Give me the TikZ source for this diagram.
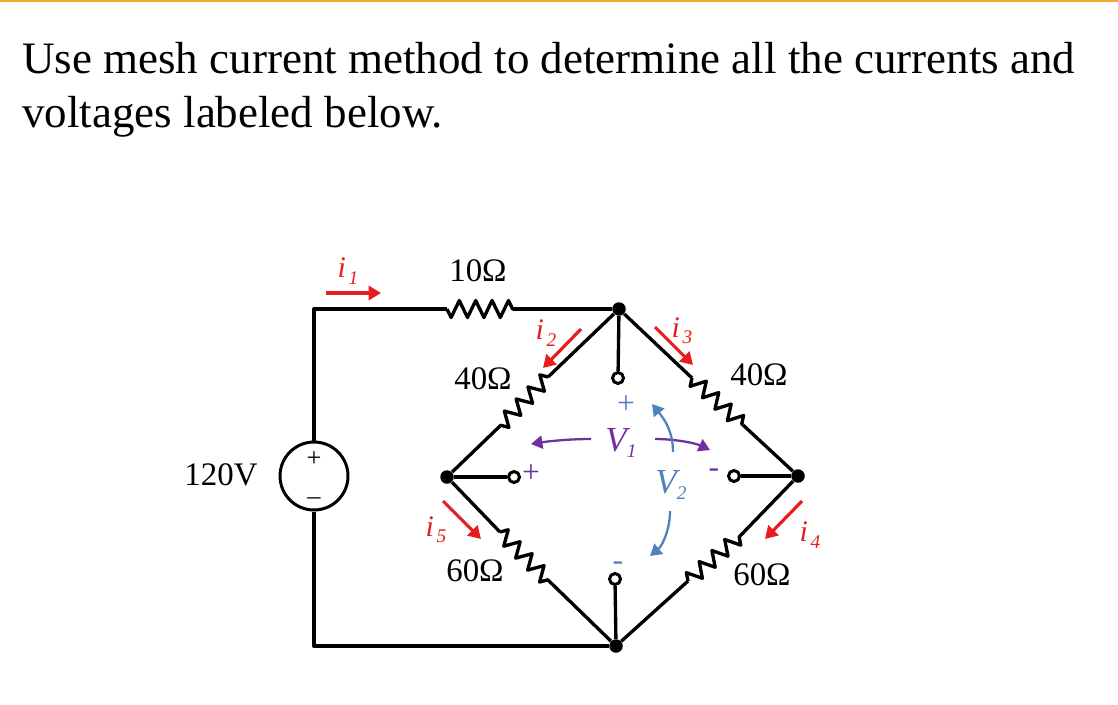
\documentclass[tikz,border=0pt]{standalone}
\usepackage{fontspec}
\setmainfont{Liberation Serif}
\usetikzlibrary{arrows.meta, decorations.pathmorphing}

\definecolor{topline}{HTML}{F0A830}
\definecolor{ired}{HTML}{E81C1C}
\definecolor{vpurple}{HTML}{7030A0}
\definecolor{vblue}{HTML}{4F81BD}

\newcommand{\sizedtext}[2]{\fontsize{#1}{#1}\selectfont #2}
\newcommand{\subbed}[3]{\sizedtext{#1}{\textit{#2}}\kern1.6pt\raisebox{-3.6pt}{\sizedtext{11}{\textit{#3}}}}

\tikzset{
  wire/.style={line width=1.9pt, line join=round, black},
  res/.style={wire, decorate, decoration={zigzag, segment length=0.338cm, amplitude=0.148cm}},
  dot/.style={circle, fill=black, inner sep=0pt, minimum size=0.27cm},
  term/.style={circle, draw=black, fill=white, line width=1.7pt, inner sep=0pt, minimum size=0.22cm},
  lab/.style={inner sep=0pt, font=\sizedtext{18.7}{}},
  sign/.style={inner sep=0pt, font=\sizedtext{18}{}},
  iarr/.style={ired, line width=1.8pt, -{Triangle[length=7pt, width=8pt]}},
  varr/.style={line width=1.3pt, -{Triangle[length=6.5pt, width=7.5pt]}},
}

\begin{document}
\begin{tikzpicture}[x=0.02cm, y=-0.02cm]
      \useasboundingbox (0,0) rectangle (1118,704);
      \fill[topline] (0,0) rectangle (1118,2);

      \node[anchor=base west, inner sep=0pt, font=\sizedtext{25.6}{}] (line1) at (22,73) {Use mesh current method to determine all the currents and};
      \node[anchor=base west, inner sep=0pt, font=\sizedtext{25.6}{}] (line2) at (22,127) {voltages labeled below.};

      % junctions and open ends
      \node[dot] (top) at (619,309) {};
      \node[dot] (left) at (447,477) {};
      \node[dot] (right) at (798,476) {};
      \node[dot] (bottom) at (616,646) {};
      \node[term] (ttop) at (618,378) {};
      \node[term] (tleft) at (514,477) {};
      \node[term] (tright) at (734,476) {};
      \node[term] (tbottom) at (615,579) {};
      \node[circle, draw=black, line width=1.7pt, inner sep=0pt, minimum size=1.36cm] (src) at (314,476) {};

      % resistor ends
      \coordinate (r1a) at (513,309);
      \coordinate (r1b) at (447,309);
      \coordinate (r2a) at (548,377);
      \coordinate (r2b) at (500,426);
      \coordinate (r3a) at (692,378);
      \coordinate (r3b) at (743,425);
      \coordinate (r4a) at (740,536);
      \coordinate (r4b) at (688,581);
      \coordinate (r5a) at (500,532);
      \coordinate (r5b) at (548,580);

      \draw[wire] (src.north) |- (r1b);
      \draw[res, decoration={segment length=0.328cm, amplitude=0.17cm, mirror}] (r1b) -- (r1a);
      \draw[wire] (r1a) -- (top);
      \draw[wire] (src.south) |- (bottom);

      \draw[wire] (top) -- (r2a) (r2b) -- (left) -- (r5a) (r5b) -- (bottom);
      \draw[wire] (top) -- (r3a) (r3b) -- (right) -- (r4a) (r4b) -- (bottom);
      \draw[res, decoration={mirror}] (r2a) -- (r2b);
      \draw[res, decoration={mirror}] (r3a) -- (r3b);
      \draw[res] (r4b) -- (r4a);
      \draw[res] (r5a) -- (r5b);

      \draw[wire] (top) -- (ttop);
      \draw[wire] (left) -- (tleft);
      \draw[wire] (right) -- (tright);
      \draw[wire] (bottom) -- (tbottom);

      % values
      \node[lab] (v10) at (478,271) {10Ω};
      \node[lab] (v40l) at (483,379) {40Ω};
      \node[lab] (v40r) at (759,375) {40Ω};
      \node[lab] (v60l) at (475,571) {60Ω};
      \node[lab] (v60r) at (762,575) {60Ω};
      \node[lab] (v120) at (221,475) {120V};

      % source signs
      \node[inner sep=0pt, font=\sizedtext{15}{}] (splus) at ([yshift=0.34cm]src.center) {+};
      \node[inner sep=0pt, font=\sizedtext{15}{}] (sminus) at ([yshift=-0.5cm]src.center) {–};

      % currents
      \coordinate (a1) at (326,293);
      \coordinate (b1) at (381,293);
      \coordinate (a2) at (581,329);
      \coordinate (b2) at (543,368);
      \coordinate (a3) at (655,327);
      \coordinate (b3) at (693,365);
      \coordinate (a4) at (802,501);
      \coordinate (b4) at (765,539);
      \coordinate (a5) at (443,501);
      \coordinate (b5) at (481,539);
      \foreach \xi in {1,...,5} {
        \draw[iarr] (a\xi) -- (b\xi);
      }
      \node[inner sep=0pt, text=ired] (i1) at (348,271) {\subbed{17}{i}{1}};
      \node[inner sep=0pt, text=ired] (i2) at (546,333) {\subbed{17}{i}{2}};
      \node[inner sep=0pt, text=ired] (i3) at (682,331) {\subbed{17}{i}{3}};
      \node[inner sep=0pt, text=ired] (i4) at (810,535) {\subbed{17}{i}{4}};
      \node[inner sep=0pt, text=ired] (i5) at (436,530) {\subbed{17}{i}{5}};

      % voltages
      \node[sign, text=vblue] (vp) at (626,405) {+};
      \node[sign, text=vblue] (vm) at (618,566) {-};
      \node[sign, text=vpurple] (up) at (531,474) {+};
      \node[sign, text=vpurple] (um) at (714,473) {-};
      \node[inner sep=0pt, text=vpurple] (V1) at (621,443) {\subbed{20}{V\kern-1.6pt}{1}};
      \node[inner sep=0pt, text=vblue] (V2) at (671,485) {\subbed{20}{V\kern-1.6pt}{2}};

      \coordinate (p1) at (591,439);
      \coordinate (p2) at (531,444);
      \coordinate (p3) at (655,439);
      \coordinate (p4) at (710,450);
      \coordinate (q1) at (673,452);
      \coordinate (q2) at (652,404);
      \coordinate (q3) at (670,511);
      \coordinate (q4) at (650,556);
      \draw[varr, vpurple] (p1) .. controls (570,439) and (550,441) .. (p2);
      \draw[varr, vpurple] (p3) .. controls (675,439) and (695,443) .. (p4);
      \draw[varr, vblue] (q1) .. controls (673,432) and (665,420) .. (q2);
      \draw[varr, vblue] (q3) .. controls (670,530) and (662,546) .. (q4);
    \end{tikzpicture}
\end{document}
